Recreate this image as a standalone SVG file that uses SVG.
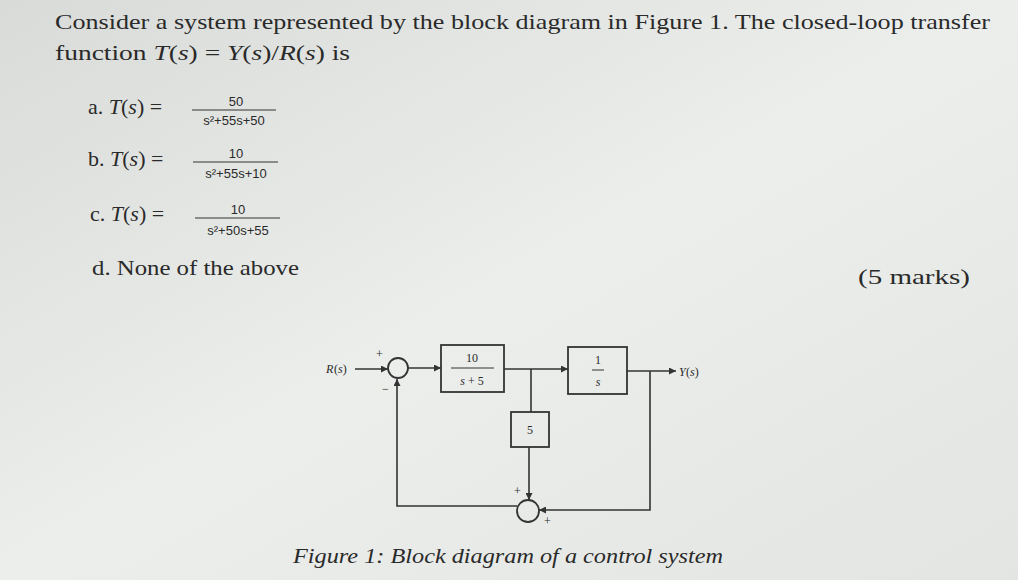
<svg xmlns="http://www.w3.org/2000/svg" width="1018" height="580" viewBox="0 0 1018 580">
<defs>
<marker id="ah" viewBox="0 0 10 10" refX="10" refY="5" markerWidth="9" markerHeight="7" orient="auto" markerUnits="userSpaceOnUse"><path d="M0,0 L10,5 L0,10 z" fill="#333"/></marker>
<linearGradient id="bg" x1="0" y1="0" x2="1" y2="1"><stop offset="0" stop-color="#d9dbd8"/><stop offset="0.5" stop-color="#eceeec"/><stop offset="1" stop-color="#e3e5e2"/></linearGradient>
</defs>
<style>
.t{font-family:"Liberation Serif",serif;fill:#2a2a2a;font-size:22px}
.m{font-family:"Liberation Sans",sans-serif;fill:#2a2a2a;font-size:13px}
.d{font-family:"Liberation Serif",serif;fill:#2a2a2a;font-size:12px}
.b{fill:none;stroke:#333;stroke-width:1.8}
.w{fill:none;stroke:#333;stroke-width:1.6}
</style>
<rect width="1018" height="580" fill="url(#bg)"/>
<text class="t" x="55" y="29" textLength="935" lengthAdjust="spacingAndGlyphs">Consider a system represented by the block diagram in Figure 1.  The closed-loop transfer</text>
<text class="t" x="55" y="60" textLength="295" lengthAdjust="spacingAndGlyphs">function <tspan font-style="italic">T</tspan>(<tspan font-style="italic">s</tspan>) = <tspan font-style="italic">Y</tspan>(<tspan font-style="italic">s</tspan>)/<tspan font-style="italic">R</tspan>(<tspan font-style="italic">s</tspan>) is</text>
<g id="opt-a"><text class="t" x="88" y="114">a. <tspan font-style="italic">T</tspan>(<tspan font-style="italic">s</tspan>) =</text>
<text class="m" x="236" y="106" text-anchor="middle">50</text><line x1="192" y1="110" x2="276" y2="110" stroke="#333" stroke-width="1"/><text class="m" x="234" y="125" text-anchor="middle">s²+55s+50</text></g>
<g id="opt-b"><text class="t" x="88" y="166">b. <tspan font-style="italic">T</tspan>(<tspan font-style="italic">s</tspan>) =</text>
<text class="m" x="236" y="158" text-anchor="middle">10</text><line x1="193" y1="162" x2="278" y2="162" stroke="#333" stroke-width="1"/><text class="m" x="236" y="178" text-anchor="middle">s²+55s+10</text></g>
<g id="opt-c"><text class="t" x="90" y="221">c. <tspan font-style="italic">T</tspan>(<tspan font-style="italic">s</tspan>) =</text>
<text class="m" x="238" y="214" text-anchor="middle">10</text><line x1="195" y1="218" x2="280" y2="218" stroke="#333" stroke-width="1"/><text class="m" x="238" y="235" text-anchor="middle">s²+50s+55</text></g>
<text class="t" x="92" y="275" textLength="207" lengthAdjust="spacingAndGlyphs">d. None of the above</text>
<text class="t" x="858" y="284" textLength="112" lengthAdjust="spacingAndGlyphs">(5 marks)</text>
<g id="connectors">
<line class="w" x1="355" y1="369" x2="388" y2="369" marker-end="url(#ah)"/>
<line class="w" x1="408" y1="368" x2="441" y2="368" marker-end="url(#ah)"/>
<line class="w" x1="504" y1="369" x2="568" y2="369" marker-end="url(#ah)"/>
<line class="w" x1="627" y1="371" x2="676" y2="371" marker-end="url(#ah)"/>
<line class="w" x1="531" y1="369" x2="531" y2="412"/>
<line class="w" x1="529" y1="447" x2="529" y2="500" marker-end="url(#ah)"/>
<polyline class="w" points="650,371 650,510 539,510" marker-end="url(#ah)"/>
<polyline class="w" points="517,506 397,506 397,379" marker-end="url(#ah)"/>
</g>
<g id="sum1"><circle class="b" cx="398" cy="368" r="10"/><text class="d" x="376" y="358">+</text><text class="d" x="382" y="393">−</text></g>
<g id="g1"><rect class="b" x="441" y="345" width="63" height="47"/><text class="d" x="472" y="362" text-anchor="middle">10</text><line x1="451" y1="368" x2="494" y2="368" stroke="#333"/><text class="d" x="472" y="385" text-anchor="middle"><tspan font-style="italic">s</tspan> + 5</text></g>
<g id="g2"><rect class="b" x="568" y="347" width="59" height="47"/><text class="d" x="598" y="364" text-anchor="middle">1</text><line x1="592" y1="370" x2="604" y2="370" stroke="#333"/><text class="d" x="598" y="386" text-anchor="middle" font-style="italic">s</text></g>
<g id="k"><rect class="b" x="511" y="412" width="38" height="35"/><text class="d" x="530" y="434" text-anchor="middle">5</text></g>
<g id="sum2"><circle class="b" cx="528" cy="511" r="11"/><text class="d" x="514" y="495">+</text><text class="d" x="544" y="525">+</text></g>
<text class="d" x="326" y="373" font-style="italic">R</text><text class="d" x="334" y="373">(<tspan font-style="italic">s</tspan>)</text>
<text class="d" x="679" y="376" font-style="italic">Y</text><text class="d" x="686" y="376">(<tspan font-style="italic">s</tspan>)</text>
<text class="t" x="293" y="563" font-size="19" font-style="italic" textLength="430" lengthAdjust="spacingAndGlyphs">Figure 1:  Block diagram of a control system</text>
</svg>
